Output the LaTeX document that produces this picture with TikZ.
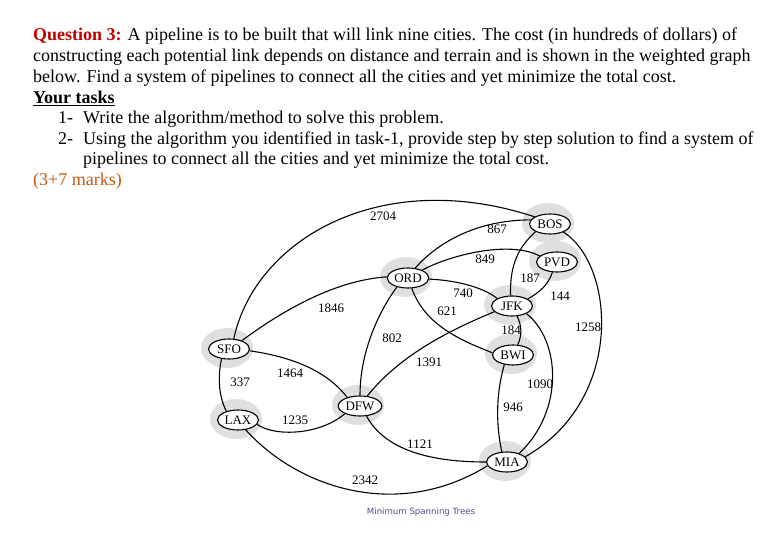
\documentclass[tikz,border=0pt]{standalone}
\usepackage{fontspec}
\setmainfont{Liberation Serif}
\newfontfamily\capfont{DejaVu Sans}
\usetikzlibrary{shapes.geometric}
\definecolor{qred}{HTML}{C00000}
\definecolor{qorange}{HTML}{C55A11}
\definecolor{capblue}{RGB}{75,75,145}
\pgfdeclarelayer{halo}
\pgfdeclarelayer{edges}
\pgfsetlayers{halo,edges,main}
\tikzset{
  txt/.style={anchor=base west, inner sep=0pt, font=\fontsize{18}{21}\selectfont},
  city/.style={ellipse, draw, fill=white, line width=1.1pt, minimum width=41pt, minimum height=20pt, inner sep=1pt, font=\fontsize{13}{15}\selectfont},
  wlab/.style={inner sep=0pt, font=\fontsize{13}{15}\selectfont},
  edge/.style={line width=1.1pt},
  halofill/.style={fill=gray!25}
}
\begin{document}
\begin{tikzpicture}[x=1pt,y=-1pt]
\useasboundingbox (0,0) rectangle (779,540);
% text
\node[txt] (l1) at (33,41) {\textbf{\color{qred}Question 3:} A pipeline is to be built that will link nine cities. The cost (in hundreds of dollars) of};
\node[txt] (l2) at (33,62) {constructing each potential link depends on distance and terrain and is shown in the weighted graph};
\node[txt] (l3) at (33,83) {below. Find a system of pipelines to connect all the cities and yet minimize the total cost.};
\node[txt] (l4) at (33,104) {\textbf{\underline{Your tasks}}};
\node[txt] (n1) at (58,124) {1-};
\node[txt] (l5) at (83,124) {Write the algorithm/method to solve this problem.};
\node[txt] (n2) at (58,144.5) {2-};
\node[txt] (l6) at (83,144.5) {Using the algorithm you identified in task-1, provide step by step solution to find a system of};
\node[txt] (l7) at (83,165) {pipelines to connect all the cities and yet minimize the total cost.};
\node[txt, text=qorange] (l8) at (33,186) {(3+7 marks)};
% cities
\node[city] (SFO) at (229,349) {SFO};
\node[city] (ORD) at (408,278) {ORD};
\node[city] (DFW) at (360,406) {DFW};
\node[city] (LAX) at (238,420) {LAX};
\node[city] (BOS) at (550,224) {BOS};
\node[city] (PVD) at (557,262) {PVD};
\node[city] (JFK) at (512,306) {JFK};
\node[city] (BWI) at (513,355) {BWI};
\node[city] (MIA) at (507,462) {MIA};
% halos
\begin{pgfonlayer}{halo}
\foreach \c in {SFO,ORD,DFW,LAX,BOS,PVD,JFK,BWI,MIA}{
  \fill[halofill] ([shift={(-2,-1)}]\c.center) ellipse (26pt and 20pt);
}
\end{pgfonlayer}
% edges
\begin{pgfonlayer}{edges}
\draw[edge] (SFO.65) .. controls (255,240) and (380,166) .. (BOS.155);
\draw[edge] (SFO.33) .. controls (290,305) and (340,280) .. (ORD.177);
\draw[edge] (SFO.-5) .. controls (300,358) and (330,375) .. (DFW.146);
\draw[edge] (SFO.233) .. controls (218,375) and (218,395) .. (LAX.143);
\draw[edge] (LAX.-13) .. controls (275,437) and (320,435) .. (DFW.207);
\draw[edge] (LAX.-52) .. controls (300,490) and (400,520) .. (MIA.191);
\draw[edge] (DFW.90) .. controls (360,350) and (380,310) .. (ORD.219);
\draw[edge] (DFW.54) .. controls (400,355) and (450,330) .. (JFK.198);
\draw[edge] (DFW.-57) .. controls (385,450) and (430,462) .. (MIA.180);
\draw[edge] (ORD.54) .. controls (440,240) and (480,220) .. (BOS.168);
\draw[edge] (ORD.29) .. controls (450,255) and (510,240) .. (PVD.161);
\draw[edge] (ORD.-3) .. controls (450,280) and (480,285) .. (JFK.153);
\draw[edge] (ORD.-70) .. controls (425,325) and (460,340) .. (BWI.174);
\draw[edge] (BOS.208) .. controls (515,250) and (510,270) .. (JFK.98);
\draw[edge] (PVD.246) .. controls (548,285) and (540,292) .. (JFK.24);
\draw[edge] (BOS.-31) .. controls (615,265) and (625,400) .. (MIA.16);
\draw[edge] (JFK.-63) .. controls (522,327) and (522,335) .. (BWI.65);
\draw[edge] (JFK.-28) .. controls (560,340) and (565,410) .. (MIA.35);
\draw[edge] (BWI.228) .. controls (497,390) and (495,420) .. (MIA.117);
\end{pgfonlayer}
% weights
\node[wlab] (w2704) at (383,216) {2704};
\node[wlab] (w867) at (497,229) {867};
\node[wlab] (w849) at (485,259) {849};
\node[wlab] (w187) at (530,278) {187};
\node[wlab] (w144) at (560,296) {144};
\node[wlab] (w740) at (463,293) {740};
\node[wlab] (w621) at (447,311) {621};
\node[wlab] (w1846) at (331,308) {1846};
\node[wlab] (w1258) at (588,327) {1258};
\node[wlab] (w184) at (511,330) {184};
\node[wlab] (w802) at (392,338) {802};
\node[wlab] (w1391) at (429,362) {1391};
\node[wlab] (w1464) at (290,373) {1464};
\node[wlab] (w337) at (240,382) {337};
\node[wlab] (w1090) at (540,384) {1090};
\node[wlab] (w946) at (513,407) {946};
\node[wlab] (w1235) at (295,420) {1235};
\node[wlab] (w1121) at (420,444) {1121};
\node[wlab] (w2342) at (365,480) {2342};
\node[inner sep=0pt, text=capblue, font=\capfont\fontsize{8.6}{10}\selectfont] (cap) at (421,512) {Minimum Spanning Trees};
\end{tikzpicture}
\end{document}
